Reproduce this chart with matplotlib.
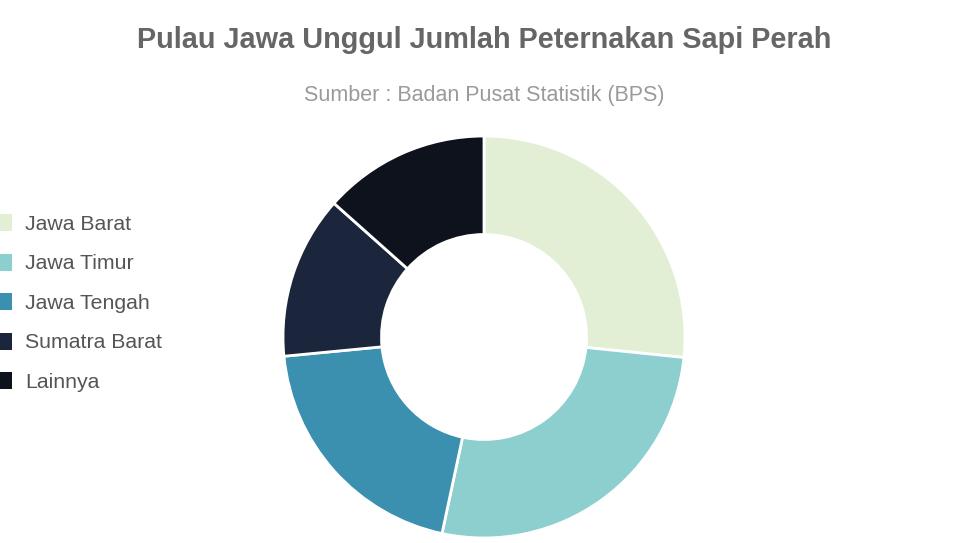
import matplotlib
matplotlib.use("Agg")
import matplotlib.pyplot as plt
from matplotlib.patches import Patch

# data (share of dairy farms)
regions = ["Jawa Barat", "Jawa Timur", "Jawa Tengah", "Sumatra Barat", "Lainnya"]
shares = [26.6, 26.7, 20.1, 13.1, 13.4]
colors = ["#e2efd4", "#8dcfcf", "#3a90ae", "#1b263d", "#0d121d"]

W, H = 968, 543
fig = plt.figure(figsize=(W / 100, H / 100), dpi=100)
fig.patch.set_facecolor("white")
font = ["Liberation Sans", "DejaVu Sans"]

# donut axes: centre (484, 337) px, radius ~201 px
cx, cy, r = 484, 337, 203
ax = fig.add_axes([(cx - r) / W, (H - cy - r) / H, 2 * r / W, 2 * r / H])
wedges, _ = ax.pie(shares, colors=colors, startangle=90, counterclock=False,
                   radius=1.0, wedgeprops=dict(width=0.49, edgecolor="white", linewidth=2))
ax.set_xlim(-1.01, 1.01)
ax.set_ylim(-1.01, 1.01)
ax.set_aspect("equal")
ax.axis("off")

fig.text(484 / W, 1 - 40 / H, "Pulau Jawa Unggul Jumlah Peternakan Sapi Perah",
         ha="center", va="center", fontsize=20.8, fontweight="bold",
         color="#666666", family=font)
fig.text(484 / W, 1 - 95 / H, "Sumber : Badan Pusat Statistik (BPS)",
         ha="center", va="center", fontsize=15.5, color="#9a9a9a",
         family=font)

handles = [Patch(facecolor=c, edgecolor="none") for c in colors]
leg = fig.legend(handles, regions, loc="upper left",
                 bbox_to_anchor=(-6 / W, 1 - 214 / H),
                 frameon=False, borderpad=0, borderaxespad=0,
                 handlelength=0.87, handleheight=0.87, handletextpad=0.6,
                 labelspacing=0.92,
                 prop={"family": font, "size": 15.3})
for t in leg.get_texts():
    t.set_color("#555555")

fig.savefig("out.png", dpi=100, facecolor="white")
